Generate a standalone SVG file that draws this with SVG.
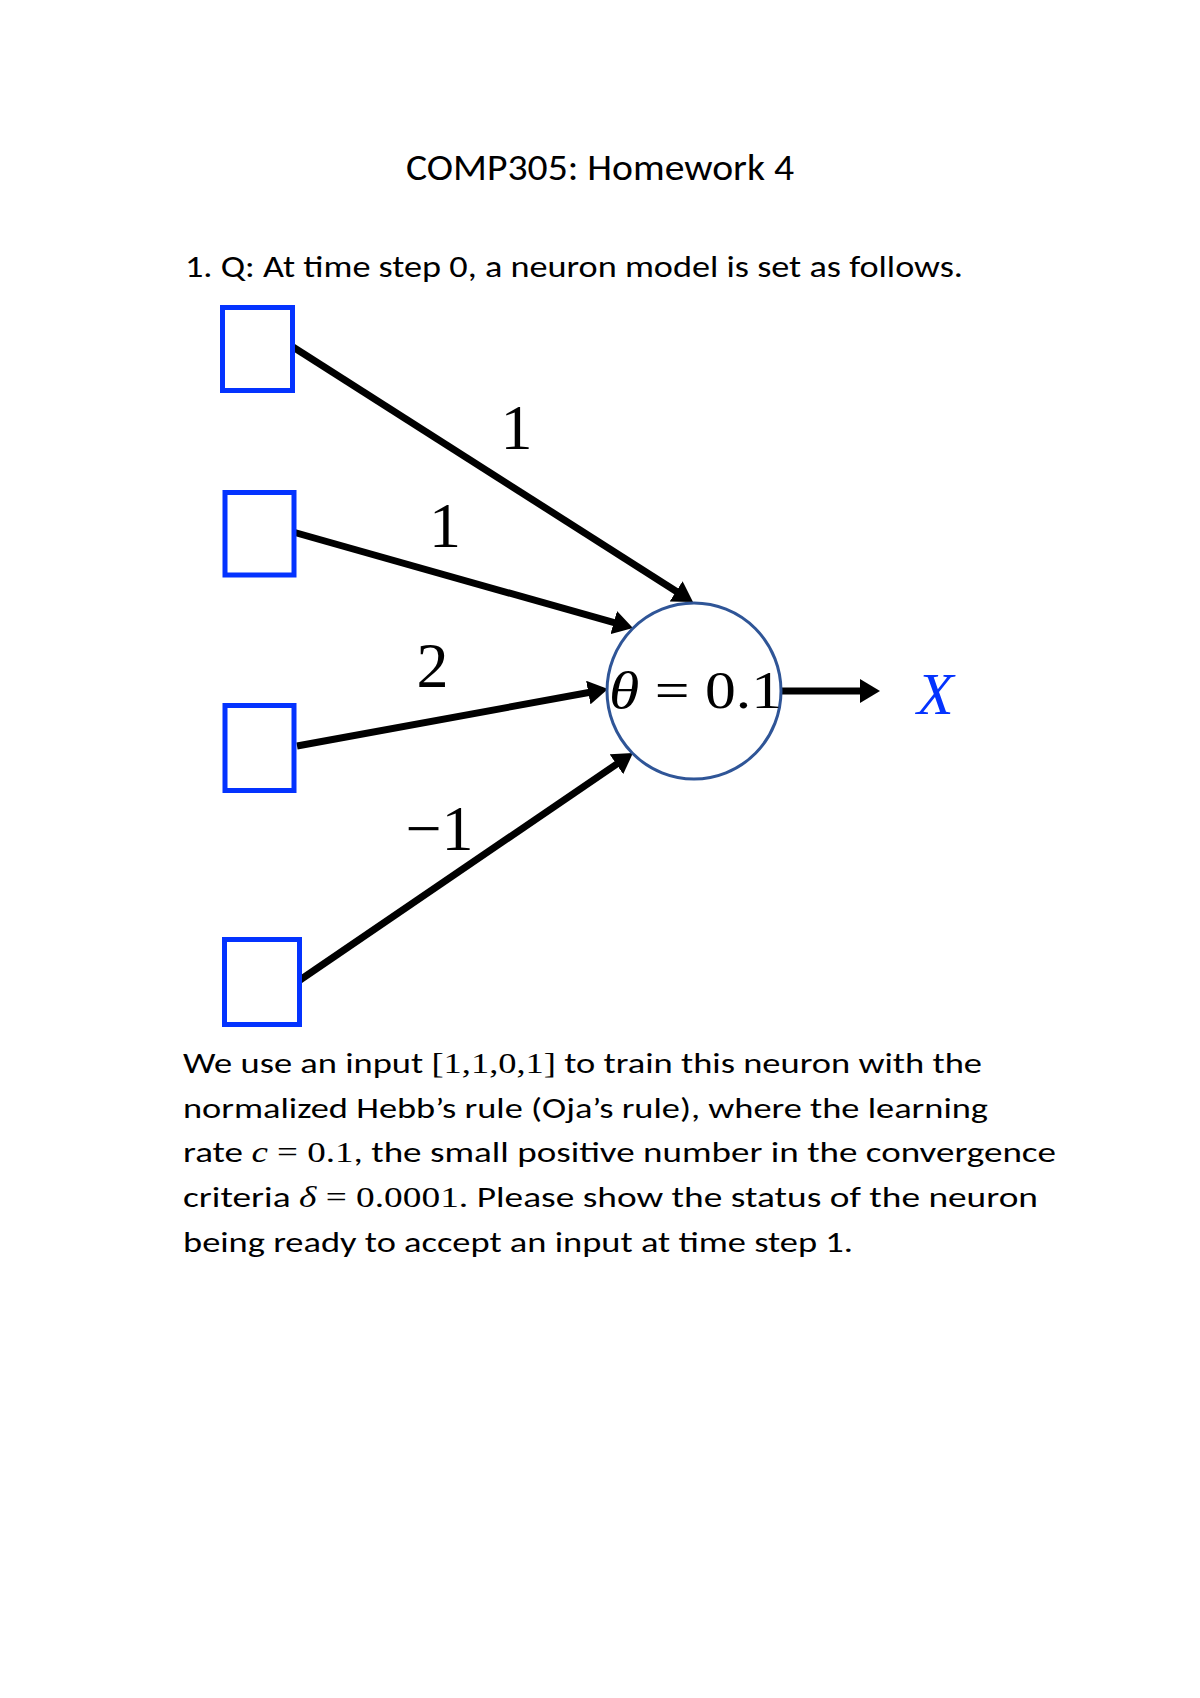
<svg xmlns="http://www.w3.org/2000/svg" width="1200" height="1698" viewBox="0 0 1200 1698">
<defs>
<style>
.sans{font-family:Carlito,Lato,"Liberation Sans",sans-serif;fill:#000}
.title{font-size:36px;font-weight:300}
.q{font-size:30px}
.body{font-size:29.5px}
.m{font-family:"Liberation Serif","DejaVu Serif",serif}
.mi{font-family:"Liberation Serif","DejaVu Serif",serif;font-style:italic}
.lbl{font-family:"Liberation Serif","DejaVu Serif",serif;font-size:64px;fill:#000;text-anchor:middle}
.inbox{fill:#fff;stroke:#0433FF;stroke-width:5}
.edge{stroke:#000;stroke-width:7;fill:none;marker-end:url(#ah)}
</style>
<marker id="ah" markerUnits="userSpaceOnUse" markerWidth="20" markerHeight="24" refX="6" refY="12" orient="auto">
<path d="M0,0 L20,12 L0,24 z" fill="#000"/>
</marker>
</defs>
<rect x="0" y="0" width="1200" height="1698" fill="#fff"/>
<text class="sans title" x="406" y="180" textLength="388" lengthAdjust="spacingAndGlyphs">COMP305: Homework 4</text>
<text class="sans q" x="185" y="277" textLength="778" lengthAdjust="spacingAndGlyphs">1. Q: At time step 0, a neuron model is set as follows.</text>
<g id="connectors">
<line class="edge" x1="293" y1="347" x2="681.2" y2="594.5"/>
<line class="edge" x1="293" y1="532" x2="619.5" y2="624.2"/>
<line class="edge" x1="297" y1="746" x2="594.2" y2="691.5"/>
<line class="edge" x1="300" y1="980" x2="621.4" y2="760.9"/>
<line class="edge" x1="782" y1="691" x2="866" y2="691"/>
<text class="lbl" x="516.5" y="449">1</text>
<text class="lbl" x="445" y="547">1</text>
<text class="lbl" x="432.5" y="687">2</text>
<text class="lbl" x="439.5" y="850">−1</text>
</g>
<g id="in1"><rect class="inbox" x="222.5" y="307.5" width="70" height="83"/></g>
<g id="in2"><rect class="inbox" x="225" y="492.5" width="69" height="82.5"/></g>
<g id="in3"><rect class="inbox" x="225" y="705.5" width="69" height="85"/></g>
<g id="in4"><rect class="inbox" x="224.5" y="939.5" width="75" height="85"/></g>
<g id="neuron">
<ellipse cx="694" cy="691" rx="87" ry="88" fill="none" stroke="#2F5597" stroke-width="3"/>
<text x="609" y="708" font-family="Liberation Serif, DejaVu Serif, serif" font-size="52" textLength="173" lengthAdjust="spacingAndGlyphs"><tspan font-style="italic">θ</tspan> = 0.1</text>
</g>
<g id="output">
<text x="917" y="714" font-family="Liberation Serif, DejaVu Serif, serif" font-size="60" font-style="italic" fill="#0433FF">X</text>
</g>
<text class="sans body" x="183" y="1073" textLength="799" lengthAdjust="spacingAndGlyphs">We use an input <tspan class="m">[1,1,0,1]</tspan> to train this neuron with the</text>
<text class="sans body" x="183" y="1117.5" textLength="805" lengthAdjust="spacingAndGlyphs">normalized Hebb’s rule (Oja’s rule), where the learning</text>
<text class="sans body" x="183" y="1162" textLength="873" lengthAdjust="spacingAndGlyphs">rate <tspan class="mi">c</tspan><tspan class="m"> = 0.1</tspan>, the small positive number in the convergence</text>
<text class="sans body" x="183" y="1207" textLength="855" lengthAdjust="spacingAndGlyphs">criteria <tspan class="mi">δ</tspan><tspan class="m"> = 0.0001</tspan>. Please show the status of the neuron</text>
<text class="sans body" x="183" y="1252" textLength="670" lengthAdjust="spacingAndGlyphs">being ready to accept an input at time step 1.</text>
</svg>
